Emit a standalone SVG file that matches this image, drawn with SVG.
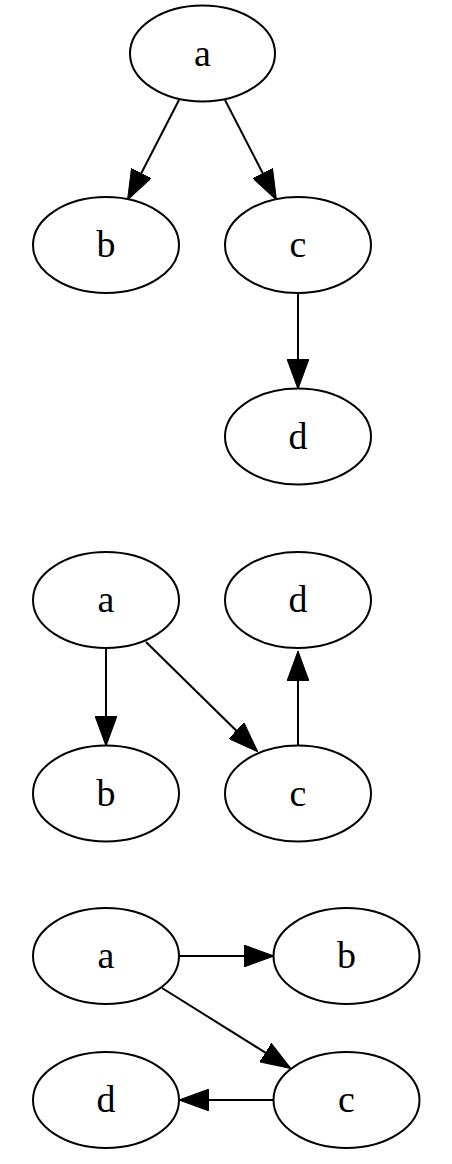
<svg xmlns="http://www.w3.org/2000/svg" width="452" height="1164" viewBox="0 0 452 1164">
<defs>
<marker id="arr" markerUnits="userSpaceOnUse" markerWidth="30" markerHeight="22" viewBox="0 0 30 22" refX="29" refY="11" orient="auto">
<path d="M0,0 L30,11 L0,22 z" fill="#000" stroke="#000" stroke-width="1"/>
</marker>
</defs>
<style>
.n ellipse{fill:#fff;stroke:#000;stroke-width:2}
.n text{font-family:"Liberation Serif","Times New Roman",serif;font-size:38px;text-anchor:middle;fill:#000}
.e line{stroke:#000;stroke-width:2;marker-end:url(#arr)}
</style>
<rect width="452" height="1164" fill="#fff"/>
<g id="edges" class="e">
<line x1="179" y1="100" x2="128" y2="199"/>
<line x1="225" y1="100" x2="276" y2="199"/>
<line x1="298" y1="293" x2="298" y2="388"/>
<line x1="106" y1="648" x2="106" y2="745"/>
<line x1="146" y1="642" x2="257" y2="751"/>
<line x1="298" y1="745" x2="298" y2="652"/>
<line x1="179" y1="956" x2="273" y2="956"/>
<line x1="162" y1="988" x2="290" y2="1068"/>
<line x1="273" y1="1100" x2="180" y2="1100"/>
</g>
<g id="g1_a" class="n"><ellipse cx="202.5" cy="53.5" rx="72.5" ry="48"/><text x="202.5" y="65.5">a</text></g>
<g id="g1_b" class="n"><ellipse cx="106" cy="245" rx="73" ry="48"/><text x="106" y="257">b</text></g>
<g id="g1_c" class="n"><ellipse cx="298" cy="245" rx="73" ry="48"/><text x="298" y="257">c</text></g>
<g id="g1_d" class="n"><ellipse cx="298" cy="436.5" rx="73" ry="48"/><text x="298" y="448.5">d</text></g>
<g id="g2_a" class="n"><ellipse cx="106" cy="600" rx="73" ry="48"/><text x="106" y="612">a</text></g>
<g id="g2_d" class="n"><ellipse cx="298" cy="600" rx="73" ry="48"/><text x="298" y="612">d</text></g>
<g id="g2_b" class="n"><ellipse cx="106" cy="793.5" rx="73" ry="48"/><text x="106" y="805.5">b</text></g>
<g id="g2_c" class="n"><ellipse cx="298" cy="793.5" rx="73" ry="48"/><text x="298" y="805.5">c</text></g>
<g id="g3_a" class="n"><ellipse cx="106" cy="956" rx="73" ry="48"/><text x="106" y="968">a</text></g>
<g id="g3_b" class="n"><ellipse cx="346.5" cy="956" rx="73" ry="48"/><text x="346.5" y="968">b</text></g>
<g id="g3_d" class="n"><ellipse cx="106" cy="1100" rx="73" ry="48"/><text x="106" y="1112">d</text></g>
<g id="g3_c" class="n"><ellipse cx="346.5" cy="1100" rx="73" ry="48"/><text x="346.5" y="1112">c</text></g>
</svg>
